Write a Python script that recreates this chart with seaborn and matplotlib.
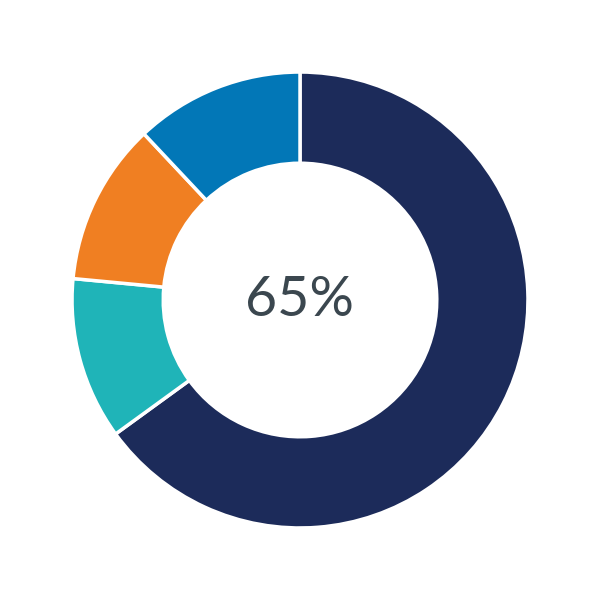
import seaborn as sns
import matplotlib.pyplot as plt

# donut data (share in %)
labels = ["Main", "Teal", "Orange", "Blue"]
values = [65, 11.5, 11.5, 12]
colors = ["#1c2b5a", "#1fb4b8", "#f07f22", "#0277b7"]
center_text = "65%"

sns.set_style("white")
plt.rcParams['font.family'] = ['Lato', 'DejaVu Sans']

fig, ax = plt.subplots(figsize=(6, 6), dpi=100)
fig.subplots_adjust(left=0, right=1, bottom=0, top=1)

ax.pie(values, colors=colors, startangle=90, counterclock=False,
       radius=1.0,
       wedgeprops=dict(width=0.4, edgecolor="white", linewidth=2.5))
ax.text(0, 0, center_text, ha="center", va="center", fontsize=40,
        color="#3b474f", fontweight="normal")

ax.set_xlim(-1.316, 1.316)
ax.set_ylim(-1.316, 1.316)
ax.set_aspect("equal")
ax.axis("off")

plt.savefig("out.png", dpi=100, facecolor="white")
